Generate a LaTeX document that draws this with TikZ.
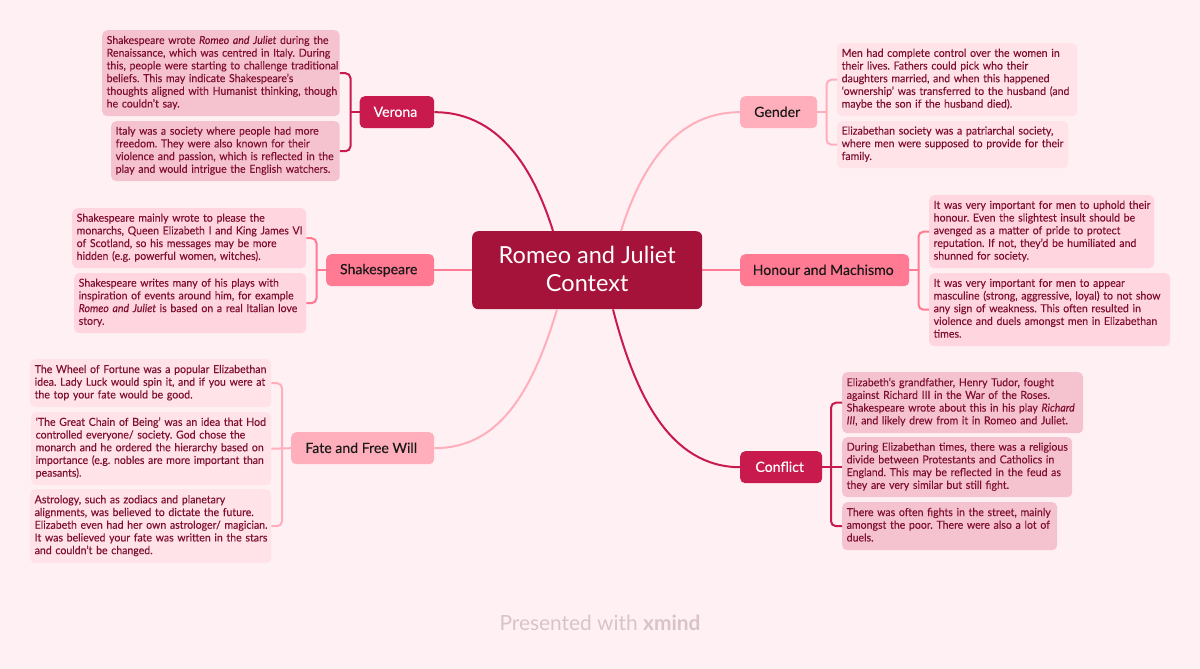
\documentclass[tikz,border=0pt]{standalone}
\usepackage{fontspec}
\setmainfont{Lato}
\newfontfamily\notefont[FakeStretch=0.955,FakeBold=0.12]{Lato}
\newfontfamily\topicfont[FakeBold=0.2]{Lato}
\frenchspacing
\definecolor{bgc}{HTML}{FFF0F3}
\definecolor{rootc}{HTML}{A6133A}
\definecolor{darkc}{HTML}{C91A4E}
\definecolor{midc}{HTML}{FF7A92}
\definecolor{lightc}{HTML}{FFAFBC}
\definecolor{darkn}{HTML}{F5C3D0}
\definecolor{midn}{HTML}{FFD6DF}
\definecolor{lightn}{HTML}{FFE3E8}
\definecolor{notetext}{HTML}{7F0E30}
\definecolor{wm}{HTML}{D9C3C9}
\newcommand\nt[1]{\makebox[\linewidth][l]{\raisebox{-2.6pt}{\begin{tabular}{@{}l@{}}#1\end{tabular}}}}
\tikzset{
 x=1pt,y=-1pt,
 notebox/.style={rounded corners=5pt,inner xsep=4.5pt,inner ysep=0pt,align=left,text=notetext,font=\notefont\fontsize{11.05}{12.7}\selectfont},
 nd/.style={notebox,fill=darkn},
 nm/.style={notebox,fill=midn},
 nl/.style={notebox,fill=lightn},
 topic/.style={rounded corners=5pt,inner sep=0pt,align=center,font=\topicfont\fontsize{14.1}{17}\selectfont,text=black!90},
 tdark/.style={topic,fill=darkc,text=white},
 tmid/.style={topic,fill=midc},
 tlight/.style={topic,fill=lightc},
 root/.style={rounded corners=6pt,inner sep=0pt,align=center,fill=rootc,text=white,font=\fontsize{23.5}{28}\selectfont},
 ld/.style={draw=darkc,line width=2pt},
 lm/.style={draw=midc,line width=2pt},
 ll/.style={draw=lightc,line width=2pt},
 bracket/.style={rounded corners=5pt},
 watermark/.style={text=wm,inner sep=0pt,font=\fontsize{20.9}{24}\selectfont},
}
\newcommand\bx[7]{\node[#1,anchor=north west,minimum width=#4pt-#3pt,minimum height=#6pt-#5pt] (#2) at (#3,#5) {#7};}
\newcommand\tx[7]{\node[#1,anchor=north west,minimum width=#4pt-#3pt,minimum height=#6pt-#5pt] (#2) at (#3,#5) {\raisebox{0.9pt}{#7}\kern3pt};}
\newcommand\nx[7]{\node[#1,anchor=north west,minimum width=#4pt-#3pt,minimum height=#6pt-#5pt,text width=#4pt-#3pt-9pt] (#2) at (#3,#5) {\nt{#7}};}
\begin{document}
\begin{tikzpicture}
\fill[bgc] (0,0) rectangle (1200,669);
\useasboundingbox (0,0) rectangle (1200,669);
% root
\bx{root}{rt}{472}{702}{231}{309}{\raisebox{-2pt}[\height][\depth]{\begin{tabular}{@{}c@{}}Romeo and Juliet\\Context\end{tabular}}}
% topics
\tx{tdark}{verona}{359.5}{434}{96}{128}{Verona}
\tx{tmid}{shake}{326}{434}{254}{286}{Shakespeare}
\tx{tlight}{fate}{291}{434}{432}{464}{Fate and Free Will}
\tx{tlight}{gender}{740}{817}{96}{128}{Gender}
\tx{tmid}{honour}{740}{909}{254}{286}{Honour and Machismo}
\tx{tdark}{conflict}{740}{822}{451}{483}{Conflict}
% notes
\nx{nd}{v1}{102}{339.5}{30}{116}{Shakespeare wrote \textit{Romeo and Juliet} during the\\Renaissance, which was centred in Italy. During\\this, people were starting to challenge traditional\\beliefs. This may indicate Shakespeare’s\\thoughts aligned with Humanist thinking, though\\he couldn’t say.}
\nx{nd}{v2}{111}{339.5}{121}{181}{Italy was a society where people had more\\freedom. They were also known for their\\violence and passion, which is reflected in the\\play and would intrigue the English watchers.}
\nx{nm}{s1}{72}{306}{208}{268}{Shakespeare mainly wrote to please the\\monarchs, Queen Elizabeth I and King James VI\\of Scotland, so his messages may be more\\hidden (e.g. powerful women, witches).}
\nx{nm}{s2}{74}{306}{273}{333}{Shakespeare writes many of his plays with\\inspiration of events around him, for example\\\textit{Romeo and Juliet} is based on a real Italian love\\story.}
\nx{nl}{f1}{30}{271}{359}{407}{The Wheel of Fortune was a popular Elizabethan\\idea. Lady Luck would spin it, and if you were at\\the top your fate would be good.}
\nx{nl}{f2}{31}{271}{412}{485}{‘The Great Chain of Being’ was an idea that Hod\\controlled everyone/ society. God chose the\\monarch and he ordered the hierarchy based on\\importance (e.g. nobles are more important than\\peasants).}
\nx{nl}{f3}{30}{271}{489}{563}{Astrology, such as zodiacs and planetary\\alignments, was believed to dictate the future.\\Elizabeth even had her own astrologer/ magician.\\It was believed your fate was written in the stars\\and couldn’t be changed.}
\nx{nl}{g1}{837}{1077}{43}{116}{Men had complete control over the women in\\their lives. Fathers could pick who their\\daughters married, and when this happened\\‘ownership’ was transferred to the husband (and\\maybe the son if the husband died).}
\nx{nl}{g2}{837}{1068}{121}{168}{Elizabethan society was a patriarchal society,\\where men were supposed to provide for their\\family.}
\nx{nm}{h1}{929}{1154}{195}{268}{It was very important for men to uphold their\\honour. Even the slightest insult should be\\avenged as a matter of pride to protect\\reputation. If not, they’d be humiliated and\\shunned for society.}
\nx{nm}{h2}{929}{1170}{273}{346}{It was very important for men to appear\\masculine (strong, aggressive, loyal) to not show\\any sign of weakness. This often resulted in\\violence and duels amongst men in Elizabethan\\times.}
\nx{nd}{c1}{842}{1083}{372}{433}{Elizabeth’s grandfather, Henry Tudor, fought\\against Richard III in the War of the Roses.\\Shakespeare wrote about this in his play \textit{Richard}\\\textit{III}, and likely drew from it in Romeo and Juliet.}
\nx{nd}{c2}{842}{1072}{437}{497}{During Elizabethan times, there was a religious\\divide between Protestants and Catholics in\\England. This may be reflected in the feud as\\they are very similar but still fight.}
\nx{nd}{c3}{842}{1057}{502}{550}{There was often fights in the street, mainly\\amongst the poor. There were also a lot of\\duels.}
% main branches
\draw[ld] (rt.north west)++(81,0) .. controls (537,180) and (505,112) .. (verona.east);
\draw[ll] (rt.north west)++(149,0) .. controls (637,180) and (669,112) .. (gender.west);
\draw[lm] (rt.west) -- (shake.east);
\draw[lm] (rt.east) -- (honour.west);
\draw[ll] (rt.south west)++(85,0) .. controls (530,400) and (495,448) .. (fate.east);
\draw[ld] (rt.south west)++(141,0) .. controls (635,395) and (670,467) .. (conflict.west);
% brackets
\coordinate (vt) at (350.5,112);
\draw[ld,bracket] (v1.east) -- (vt|-v1.east) -- (vt|-v2.east) -- (v2.east);
\draw[ld] (verona.west) -- (vt|-verona.west);
\coordinate (st) at (316.5,270);
\draw[lm,bracket] (s1.east) -- (st|-s1.east) -- (st|-s2.east) -- (s2.east);
\draw[lm] (shake.west) -- (st|-shake.west);
\coordinate (ft) at (282,448);
\draw[ll,bracket] (f1.east) -- (ft|-f1.east) -- (ft|-f3.east) -- (f3.east);
\draw[ll] (fate.west) -- (f2.east);
\coordinate (gt) at (826.5,112);
\draw[ll,bracket] (g1.west) -- (gt|-g1.west) -- (gt|-g2.west) -- (g2.west);
\draw[ll] (gender.east) -- (gt|-gender.east);
\coordinate (ht) at (918.5,270);
\draw[lm,bracket] (h1.west) -- (ht|-h1.west) -- (ht|-h2.west) -- (h2.west);
\draw[lm] (honour.east) -- (ht|-honour.east);
\coordinate (ct) at (831,467);
\draw[ld,bracket] (c1.west) -- (ct|-c1.west) -- (ct|-c3.west) -- (c3.west);
\draw[ld] (conflict.east) -- (c2.west);
% watermark
\node[watermark,anchor=base] (wmk) at (600,630) {Presented with \textbf{xmind}};
\end{tikzpicture}
\end{document}
